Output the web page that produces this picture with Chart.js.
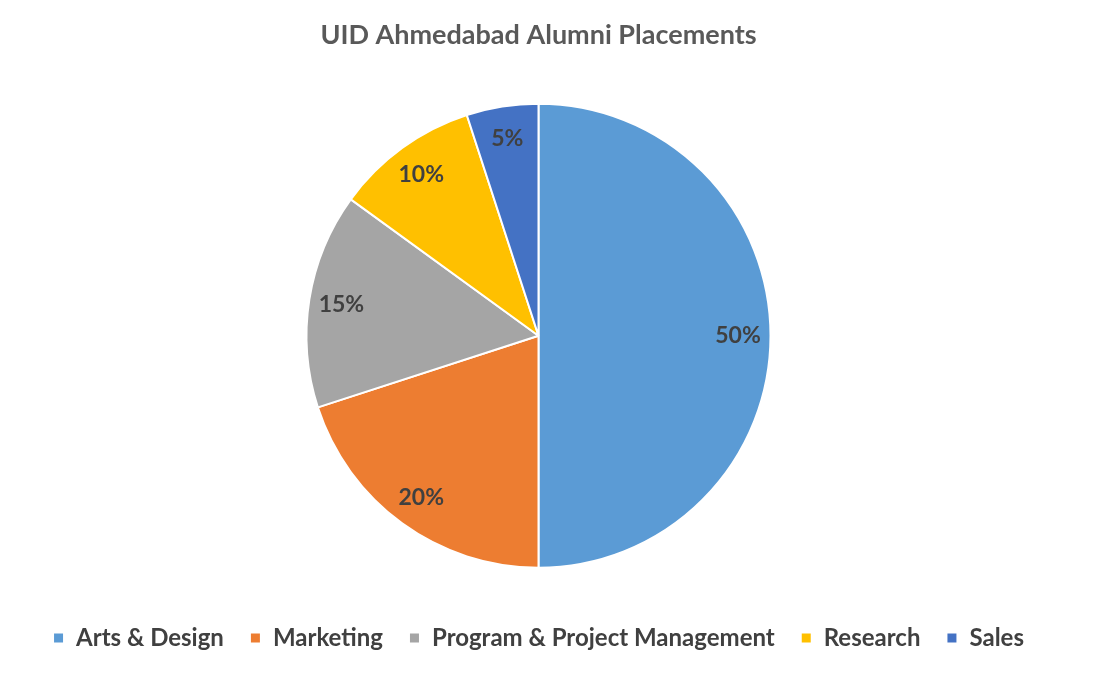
<!DOCTYPE html>
<html>
<head>
<meta charset="utf-8">
<script src="https://cdn.jsdelivr.net/npm/chart.js@4"></script>
<style>
  html, body { margin: 0; padding: 0; background: #fff; }
  #wrap { width: 1105px; height: 687px; }
</style>
</head>
<body>
<div id="wrap"><canvas id="pieChart"></canvas></div>
<script>
// chart data
const categories = ['Arts & Design', 'Marketing', 'Program & Project Management', 'Research', 'Sales'];
const shares = [50, 20, 15, 10, 5];
const sliceColors = ['#5B9BD5', '#ED7D31', '#A5A5A5', '#FFC000', '#4472C4'];

// percentage labels inside each slice
const sliceLabels = {
    id: 'sliceLabels',
    afterDatasetsDraw(chart) {
        const ctx = chart.ctx;
        const meta = chart.getDatasetMeta(0);
        ctx.save();
        ctx.font = 'bold 23px Lato, "Open Sans", sans-serif';
        ctx.fillStyle = '#404040';
        ctx.textAlign = 'center';
        ctx.textBaseline = 'middle';
        meta.data.forEach((arc, i) => {
            const p = arc.getProps(['x', 'y', 'startAngle', 'endAngle', 'outerRadius']);
            const mid = (p.startAngle + p.endAngle) / 2;
            const r = p.outerRadius * 0.86;
            ctx.fillText(shares[i] + '%', p.x + Math.cos(mid) * r, p.y + Math.sin(mid) * r);
        });
        ctx.restore();
    }
};

new Chart(document.getElementById('pieChart'), {
    type: 'pie',
    data: {
        labels: categories,
        datasets: [{
            data: shares,
            backgroundColor: sliceColors,
            borderColor: '#ffffff',
            borderWidth: 2
        }]
    },
    options: {
        responsive: true,
        maintainAspectRatio: false,
        animation: false,
        radius: 232,
        layout: { padding: { top: 3, bottom: 27, right: 28 } },
        plugins: {
            title: {
                display: true,
                text: 'UID Ahmedabad Alumni Placements',
                color: '#595959',
                font: { family: 'Lato, "Open Sans", sans-serif', size: 27, weight: 'bold' },
                padding: { top: 16, bottom: 20 }
            },
            legend: {
                position: 'bottom',
                labels: {
                    color: '#404040',
                    font: { family: 'Lato, "Open Sans", sans-serif', size: 24, weight: 'bold' },
                    boxWidth: 11,
                    boxHeight: 11,
                    padding: 26
                }
            },
            tooltip: { enabled: false }
        }
    },
    plugins: [sliceLabels]
});
</script>
</body>
</html>
